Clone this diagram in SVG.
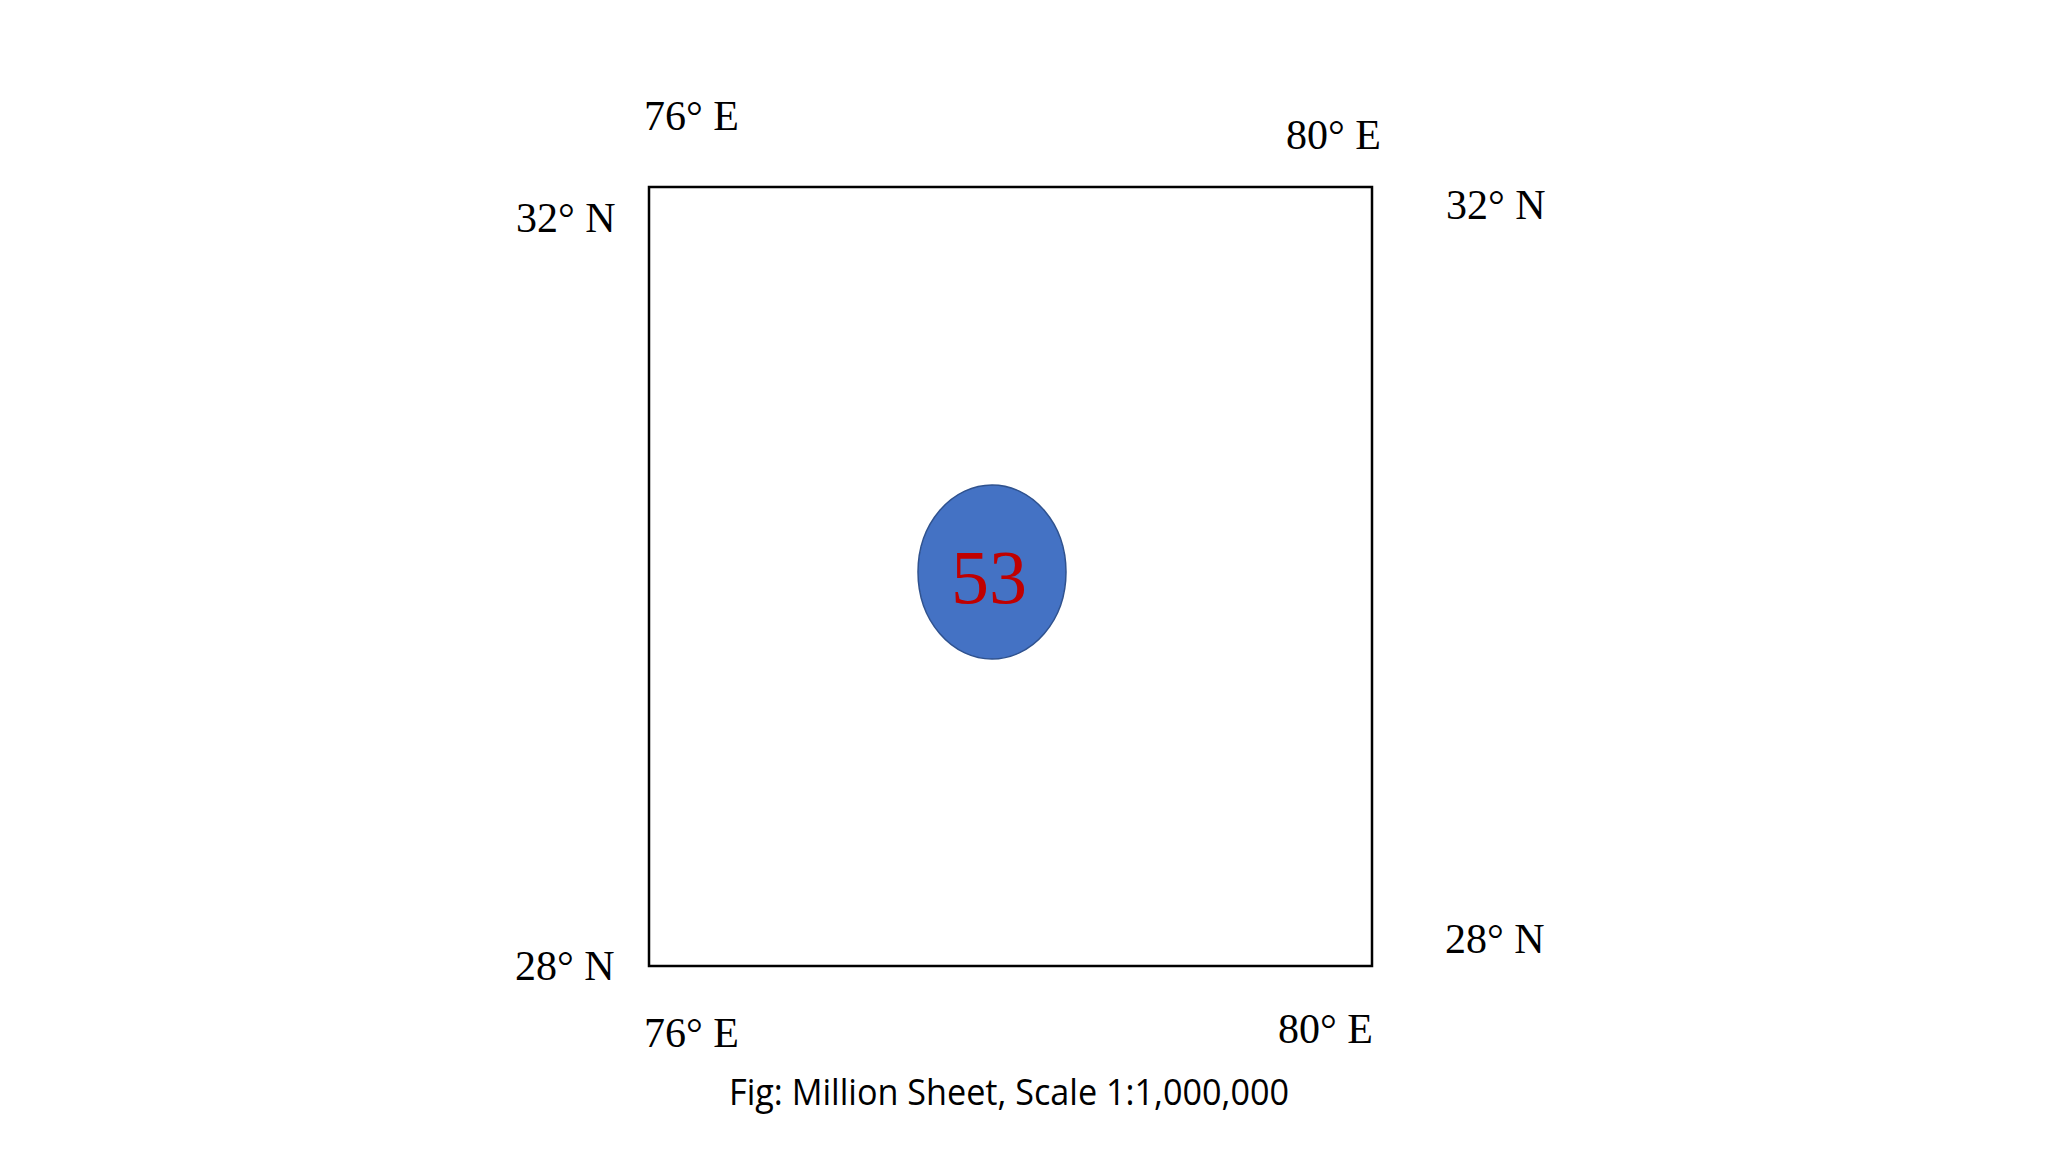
<svg xmlns="http://www.w3.org/2000/svg" width="2048" height="1152" viewBox="0 0 2048 1152">
<style>
.lbl{font-family:"Liberation Serif","Times New Roman",serif;font-size:42px;fill:#000}
.cap{font-family:"Open Sans","Liberation Sans",sans-serif;font-size:37px;fill:#000}
</style>
<rect width="2048" height="1152" fill="#ffffff"/>
<g id="sheet">
<rect x="649" y="187" width="723" height="779" fill="none" stroke="#000" stroke-width="2.5"/>
</g>
<g id="sheet-number">
<ellipse cx="992" cy="572" rx="74" ry="87" fill="#4472C4" stroke="#2F528F" stroke-width="1.5"/>
<text x="989" y="603" text-anchor="middle" font-family="Liberation Serif, Times New Roman, serif" font-size="76" fill="#C00000">53</text>
</g>
<g id="labels">
<text class="lbl" x="644" y="130">76° E</text>
<text class="lbl" x="1286" y="149">80° E</text>
<text class="lbl" x="516" y="232">32° N</text>
<text class="lbl" x="1446" y="219">32° N</text>
<text class="lbl" x="515" y="980">28° N</text>
<text class="lbl" x="1445" y="953">28° N</text>
<text class="lbl" x="644" y="1047">76° E</text>
<text class="lbl" x="1278" y="1043">80° E</text>
</g>
<g id="caption">
<text class="cap" x="729" y="1105" textLength="560" lengthAdjust="spacingAndGlyphs">Fig: Million Sheet, Scale 1:1,000,000</text>
</g>
</svg>
